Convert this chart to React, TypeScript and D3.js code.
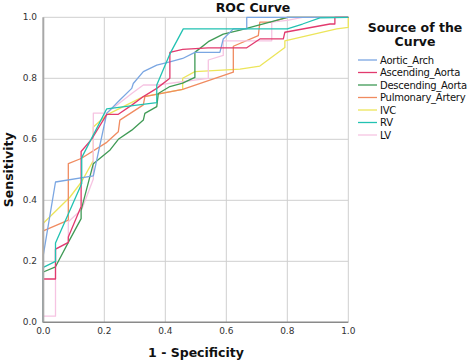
import { scaleLinear, line as d3line } from "d3";

// ROC points as [1 - specificity, sensitivity]
const aorticArch: [number, number][] = [
  [0, 0], [0, 0.22], [0.04, 0.46], [0.164, 0.48], [0.208, 0.685], [0.251, 0.729],
  [0.29, 0.767], [0.295, 0.783], [0.328, 0.822], [0.372, 0.843], [0.415, 0.854],
  [0.457, 0.865], [0.497, 0.885], [0.579, 0.885], [0.59, 0.929], [0.623, 0.962],
  [0.667, 0.962], [0.667, 1.0], [1, 1],
];
const ascendingAorta: [number, number][] = [
  [0, 0], [0, 0.142], [0.04, 0.142], [0.04, 0.24], [0.082, 0.262], [0.082, 0.28],
  [0.124, 0.38], [0.124, 0.56], [0.158, 0.6], [0.208, 0.682], [0.246, 0.682],
  [0.29, 0.712], [0.328, 0.74], [0.372, 0.767], [0.415, 0.8], [0.415, 0.885],
  [0.457, 0.895], [0.54, 0.9], [0.667, 0.9], [0.71, 0.929], [0.787, 0.929],
  [0.792, 0.951], [0.94, 0.978], [0.956, 0.978], [0.956, 1.0], [1, 1],
];
const descendingAorta: [number, number][] = [
  [0, 0], [0, 0.165], [0.04, 0.182], [0.082, 0.262], [0.124, 0.34], [0.124, 0.368],
  [0.164, 0.52], [0.219, 0.565], [0.246, 0.6], [0.29, 0.63], [0.328, 0.663],
  [0.333, 0.685], [0.372, 0.707], [0.377, 0.75], [0.415, 0.773], [0.457, 0.784],
  [0.497, 0.803], [0.497, 0.885], [0.541, 0.92], [0.59, 0.945], [0.645, 0.958],
  [0.743, 0.984], [0.8, 1.0], [1, 1],
];
const pulmonaryArtery: [number, number][] = [
  [0, 0], [0, 0.3], [0.082, 0.335], [0.082, 0.52], [0.124, 0.537], [0.208, 0.59],
  [0.246, 0.625], [0.251, 0.663], [0.328, 0.713], [0.333, 0.74], [0.457, 0.764],
  [0.623, 0.82], [0.623, 0.905], [0.705, 0.94], [0.71, 0.984], [0.748, 0.984],
  [0.8, 1.0], [1, 1],
];
const ivc: [number, number][] = [
  [0, 0], [0, 0.325], [0.087, 0.41], [0.125, 0.46], [0.164, 0.53], [0.164, 0.64],
  [0.208, 0.68], [0.328, 0.74], [0.457, 0.764], [0.457, 0.8], [0.497, 0.822],
  [0.645, 0.83], [0.71, 0.84], [0.792, 0.901], [0.792, 0.923], [0.962, 0.962],
  [1.0, 0.967], [1, 1],
];
const rv: [number, number][] = [
  [0, 0], [0, 0.18], [0.04, 0.2], [0.04, 0.26], [0.126, 0.455], [0.126, 0.54],
  [0.208, 0.7], [0.372, 0.72], [0.372, 0.778], [0.415, 0.88], [0.459, 0.962],
  [0.8, 0.962], [0.85, 0.978], [0.907, 0.998], [1, 1],
];
const lv: [number, number][] = [
  [0, 0], [0, 0.02], [0.04, 0.02], [0.04, 0.24], [0.082, 0.26], [0.082, 0.33],
  [0.126, 0.37], [0.164, 0.47], [0.164, 0.686], [0.208, 0.686], [0.29, 0.75],
  [0.328, 0.778], [0.372, 0.778], [0.541, 0.8], [0.541, 0.86], [0.59, 0.875],
  [0.59, 0.923], [0.749, 0.923], [0.749, 0.984], [0.8, 0.99], [0.85, 1.0], [1, 1],
];

const seriesNames = [
  "Aortic_Arch",
  "Ascending_Aorta",
  "Descending_Aorta",
  "Pulmonary_Artery",
  "IVC",
  "RV",
  "LV",
];
const seriesData = [aorticArch, ascendingAorta, descendingAorta, pulmonaryArtery, ivc, rv, lv];
const seriesColors = ["#7aa6e2", "#e23a6e", "#3f9a55", "#f08b60", "#ece55a", "#22c2b2", "#f6c4e2"];
const ticks = [0, 0.2, 0.4, 0.6, 0.8, 1.0];

const WIDTH = 474;
const HEIGHT = 363;
const FONT = "'DejaVu Sans', Verdana, sans-serif";

export default function App() {
  const x = scaleLinear().domain([0, 1]).range([43.3, 348.3]);
  const y = scaleLinear().domain([0, 1]).range([322.3, 17.3]);
  const lineGen = d3line<[number, number]>()
    .x((d) => x(d[0]))
    .y((d) => y(d[1]));

  // draw order: last series listed on top
  const order = [4, 3, 6, 2, 0, 1, 5];

  return (
    <svg
      width={WIDTH}
      height={HEIGHT}
      style={{ position: "absolute", left: 0, top: 0, background: "#fff" }}
      fontFamily={FONT}
    >
      {/* grid */}
      {ticks.slice(1).map((t) => (
        <line key={`gx${t}`} x1={x(t)} x2={x(t)} y1={y(0)} y2={y(1)} stroke="#cfcfcf" strokeWidth={1} />
      ))}
      {ticks.slice(1).map((t) => (
        <line key={`gy${t}`} x1={x(0)} x2={x(1)} y1={y(t)} y2={y(t)} stroke="#cfcfcf" strokeWidth={1} />
      ))}

      {/* curves */}
      {order.map((i) => (
        <path
          key={seriesNames[i]}
          d={lineGen(seriesData[i]) ?? ""}
          fill="none"
          stroke={seriesColors[i]}
          strokeWidth={1.3}
          strokeLinejoin="round"
        />
      ))}

      {/* axes */}
      <line x1={x(0)} x2={x(0)} y1={y(0)} y2={y(1)} stroke="#a8a8a8" strokeWidth={2} />
      <line x1={x(0)} x2={x(1)} y1={y(0)} y2={y(0)} stroke="#8a8a8a" strokeWidth={1.5} />

      {ticks.map((t) => (
        <text key={`ty${t}`} x={37} y={y(t)} dy="0.35em" textAnchor="end" fontSize={9} fill="#333">
          {t.toFixed(1)}
        </text>
      ))}
      {ticks.map((t) => (
        <text key={`tx${t}`} x={x(t)} y={334} textAnchor="middle" fontSize={9} fill="#333">
          {t.toFixed(1)}
        </text>
      ))}

      {/* titles */}
      <text x={253} y={12} textAnchor="middle" fontSize={12.5} fontWeight="bold" fill="#111">
        ROC Curve
      </text>
      <text x={196} y={357} textAnchor="middle" fontSize={12.5} fontWeight="bold" fill="#111">
        1 - Specificity
      </text>
      <text
        transform={`translate(13,${(y(0) + y(1)) / 2}) rotate(-90)`}
        textAnchor="middle"
        fontSize={12.5}
        fontWeight="bold"
        fill="#111"
      >
        Sensitivity
      </text>

      {/* legend */}
      <text x={415} y={32} textAnchor="middle" fontSize={12.5} fontWeight="bold" fill="#111">
        Source of the
      </text>
      <text x={415} y={46} textAnchor="middle" fontSize={12.5} fontWeight="bold" fill="#111">
        Curve
      </text>
      {seriesNames.map((name, i) => {
        const cy = 60 + i * 12.5;
        return (
          <g key={name}>
            <line x1={358} x2={377} y1={cy} y2={cy} stroke={seriesColors[i]} strokeWidth={1.3} />
            <text x={380} y={cy} dy="0.35em" fontSize={10} fill="#111" letterSpacing={-0.25}>
              {name}
            </text>
          </g>
        );
      })}
    </svg>
  );
}
